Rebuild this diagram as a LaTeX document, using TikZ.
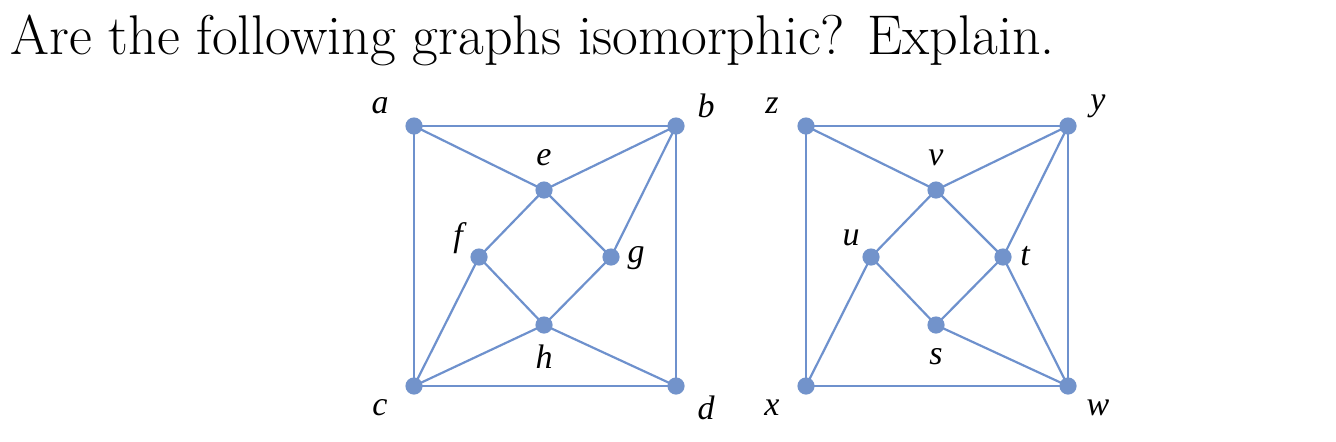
\documentclass[tikz,border=0pt]{standalone}
\usepackage{fontspec}
\newfontfamily\lblfont{Liberation Serif}
\definecolor{nodeblue}{RGB}{114,147,203}
\definecolor{edgeblue}{RGB}{110,145,205}
\begin{document}
\begin{tikzpicture}[x=0.5pt,y=-0.5pt,
  lbl/.style={font=\lblfont\itshape\fontsize{17}{20}\selectfont},
  edge/.style={draw=edgeblue,line width=1.1pt}]
\useasboundingbox (0,0) rectangle (1336,441);
\node[anchor=west,font=\fontsize{28}{32}\selectfont,inner sep=0pt] (title) at (10,40) {Are the following graphs isomorphic? Explain.};
% vertices as coordinates
\foreach \n/\px/\py in {a/414/126,b/676/126,e/544/190,f/479/257,g/611/257,h/544/325,c/414/386,d/676/386,z/806/126,y/1068/126,v/936/190,u/871/257,t/1003/257,s/936/325,x/806/386,w/1068/386}
  \coordinate (\n) at (\px,\py);
\foreach \p/\q in {a/b,a/c,b/d,c/d,a/e,e/b,e/f,e/g,b/g,f/h,g/h,f/c,c/h,h/d}
  \path[edge] (\p) -- (\q);
\foreach \p/\q in {z/y,z/x,y/w,x/w,z/v,v/y,v/u,v/t,y/t,u/s,t/s,u/x,t/w,s/w}
  \path[edge] (\p) -- (\q);
\foreach \n in {a,b,c,d,e,f,g,h,s,t,u,v,w,x,y,z}
  \fill[nodeblue] (\n) circle (4.3pt);
% labels
\node[lbl] (la) at (380,106) {a};
\node[lbl] (lb) at (706,106) {b};
\node[lbl] (le) at (544,158) {e};
\node[lbl] (lf) at (458,238) {f};
\node[lbl] (lg) at (636,258) {g};
\node[lbl] (lh) at (544,357) {h};
\node[lbl] (lc) at (380,408) {c};
\node[lbl] (ld) at (706,408) {d};
\node[lbl] (lz) at (772,106) {z};
\node[lbl] (ly) at (1098,106) {y};
\node[lbl] (lv) at (936,158) {v};
\node[lbl] (lu) at (851,238) {u};
\node[lbl] (lt) at (1025,256) {t};
\node[lbl] (ls) at (936,357) {s};
\node[lbl] (lx) at (772,408) {x};
\node[lbl] (lw) at (1098,408) {w};
\end{tikzpicture}
\end{document}
